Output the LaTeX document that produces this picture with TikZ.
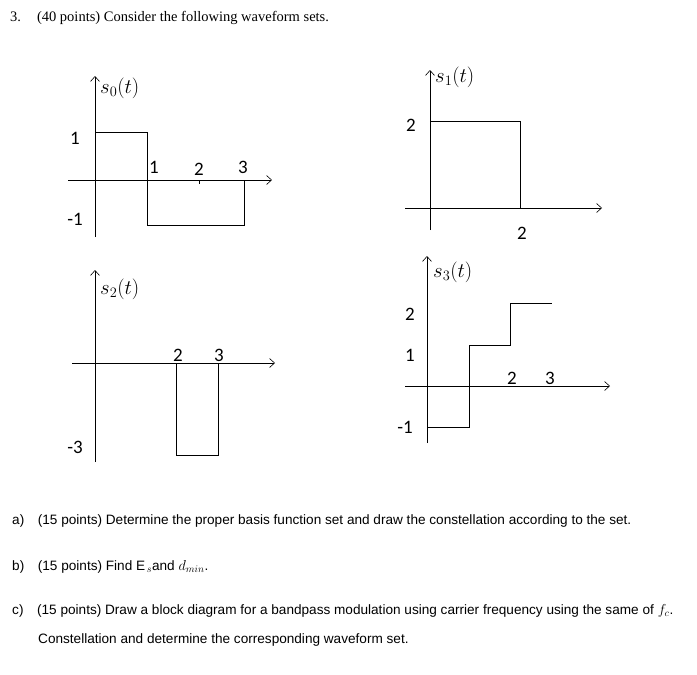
\documentclass[tikz,border=0pt]{standalone}
\usepackage{fontspec}
\usetikzlibrary{arrows.meta}
\setmainfont{Liberation Serif}
\newfontfamily\lab{Carlito}
\newfontfamily\qf{Liberation Sans}
\begin{document}
\begin{tikzpicture}[x=1pt,y=-1pt,
  ax/.style={-{Straight Barb[length=5pt,width=9pt]},line width=0.6pt},
  wf/.style={line width=0.6pt},
  lb/.style={font=\lab\fontsize{19}{19}\selectfont,inner sep=0pt},
  ml/.style={font=\fontsize{20}{20}\selectfont,inner sep=0pt,anchor=west},
  qt/.style={font=\qf\fontsize{13.6}{14}\selectfont,inner sep=0pt,anchor=west}]
\useasboundingbox (0,0) rectangle (697,675);
\node[anchor=west,inner sep=0pt,font=\fontsize{14.5}{15}\selectfont] (h) at (10,18) {3.\hspace{1.1em}(40 points) Consider the following waveform sets.};
% s0
\draw[ax] (95,237) -- (95,76);
\draw[ax] (68,180) -- (272,180);
\draw[wf] (95,132) -- (147,132) -- (147,225) -- (244,225) -- (244,180);
\draw[wf] (199,181) -- (199,184);
\node[ml] (l0) at (100,88) {$s_0(t)$};
\node[lb] at (75,138) {1};
\node[lb] at (75,219) {-1};
\node[lb] at (154,167) {1};
\node[lb] at (199,169) {2};
\node[lb] at (243,167) {3};
% s1
\draw[ax] (430,230) -- (430,70);
\draw[ax] (405,208) -- (602,208);
\draw[wf] (430,121) -- (520,121) -- (520,208);
\node[ml] (l1) at (435,77) {$s_1(t)$};
\node[lb] at (411,125) {2};
\node[lb] at (522,233) {2};
% s2
\draw[ax] (95,462) -- (95,270);
\draw[ax] (72,363) -- (275,363);
\draw[wf] (176,363) -- (176,455) -- (218,455) -- (218,363);
\node[ml] (l2) at (100,289) {$s_2(t)$};
\node[lb] at (178,355) {2};
\node[lb] at (219,355) {3};
\node[lb] at (75,447) {-3};
% s3
\draw[ax] (427,443) -- (427,256);
\draw[ax] (405,386) -- (610,386);
\draw[wf] (427,427) -- (469,427) -- (469,345) -- (510,345) -- (510,303) -- (552,303);
\node[ml] (l3) at (433,272) {$s_3(t)$};
\node[lb] at (410,314) {2};
\node[lb] at (410,355) {1};
\node[lb] at (405,427) {-1};
\node[lb] at (512,378) {2};
\node[lb] at (550,378) {3};
% questions
\node[qt] (qa) at (12,521) {a)\hspace{1em}(15 points) Determine the proper basis function set and draw the constellation according to the set.};
\node[qt] (qb) at (12,567) {b)\hspace{1em}(15 points) Find E$_{\,s}$and $d_{min}$.};
\node[qt] (qc) at (12,611) {c)\hspace{1em}(15 points) Draw a block diagram for a bandpass modulation using carrier frequency using the same of $f_c$.};
\node[qt] (qd) at (38,640) {Constellation and determine the corresponding waveform set.};
\end{tikzpicture}
\end{document}
